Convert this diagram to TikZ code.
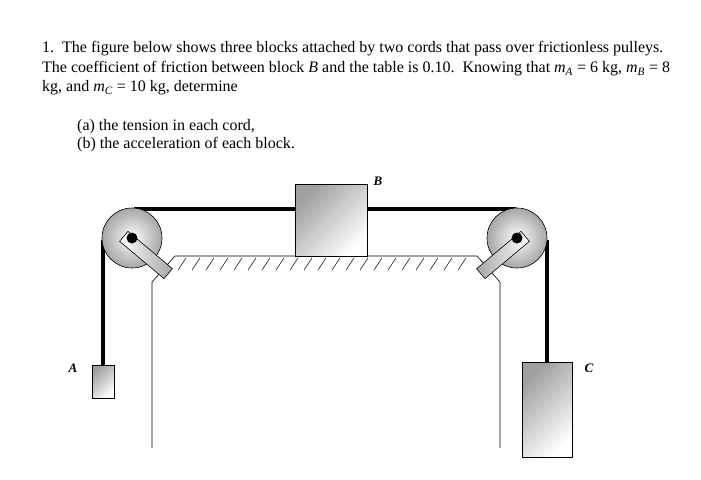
\documentclass[tikz,border=0pt]{standalone}
\usepackage{fontspec}
\setmainfont{Liberation Serif}
\begin{document}
\begin{tikzpicture}[x=1pt,y=-1pt,
  txt/.style={anchor=west,inner sep=0pt,font=\fontsize{16}{19}\selectfont},
  lbl/.style={font=\bfseries\itshape\fontsize{13}{15}\selectfont,inner sep=0pt},
  blk/.style={draw,line width=0.8pt,left color=gray!75,right color=white,shading angle=45},
  cord/.style={line width=3.4pt}]
\useasboundingbox (0,0) rectangle (701,479);
\node[txt] (l1) at (42,49) {1.\ \ The figure below shows three blocks attached by two cords that pass over frictionless pulleys.};
\node[txt] (l2) at (42,69) {The coefficient of friction between block \textit{B} and the table is 0.10.\ \ Knowing that \textit{m\textsubscript{A}} = 6 kg, \textit{m\textsubscript{B}} = 8};
\node[txt] (l3) at (42,88) {kg, and \textit{m\textsubscript{C}} = 10 kg, determine};
\node[txt] (a) at (77,127) {(a) the tension in each cord,};
\node[txt] (b) at (77,145) {(b) the acceleration of each block.};
% table
\draw[line width=0.6pt] (152,448) -- (152,282) -- (175,256) -- (477,256) -- (500,282) -- (500,448);
\foreach \x in {178,192,...,470} \draw[line width=0.5pt] (\x,270) -- (\x+8,258);
% cords
\draw[cord] (134,209) -- (295,209);
\draw[cord] (367,209) -- (516,209);
\draw[cord] (103,240) -- (103,365);
\draw[cord] (547,240) -- (547,362);
% pulleys
\foreach \cx in {132,517}{
  \draw[line width=0.6pt,inner color=white,outer color=gray!70] (\cx,238) circle (30);
}
\node[draw,line width=0.6pt,left color=white,right color=gray!70,minimum width=58pt,minimum height=13pt,rotate=-40] (arml) at (146,255) {};
\node[draw,line width=0.6pt,left color=gray!70,right color=white,minimum width=58pt,minimum height=13pt,rotate=40] (armr) at (503,255) {};
\fill (132,238) circle (5.5);
\fill (517,238) circle (5.5);
% blocks
\node[blk,minimum width=72pt,minimum height=72pt,anchor=north west] (B) at (295,184) {};
\node[blk,minimum width=22pt,minimum height=33pt,anchor=north west] (A) at (92,365) {};
\node[blk,minimum width=50pt,minimum height=95pt,anchor=north west] (C) at (522,362) {};
\node[lbl] at (378,181) {B};
\node[lbl] at (73,368) {A};
\node[lbl] at (589,368) {C};
\end{tikzpicture}
\end{document}
